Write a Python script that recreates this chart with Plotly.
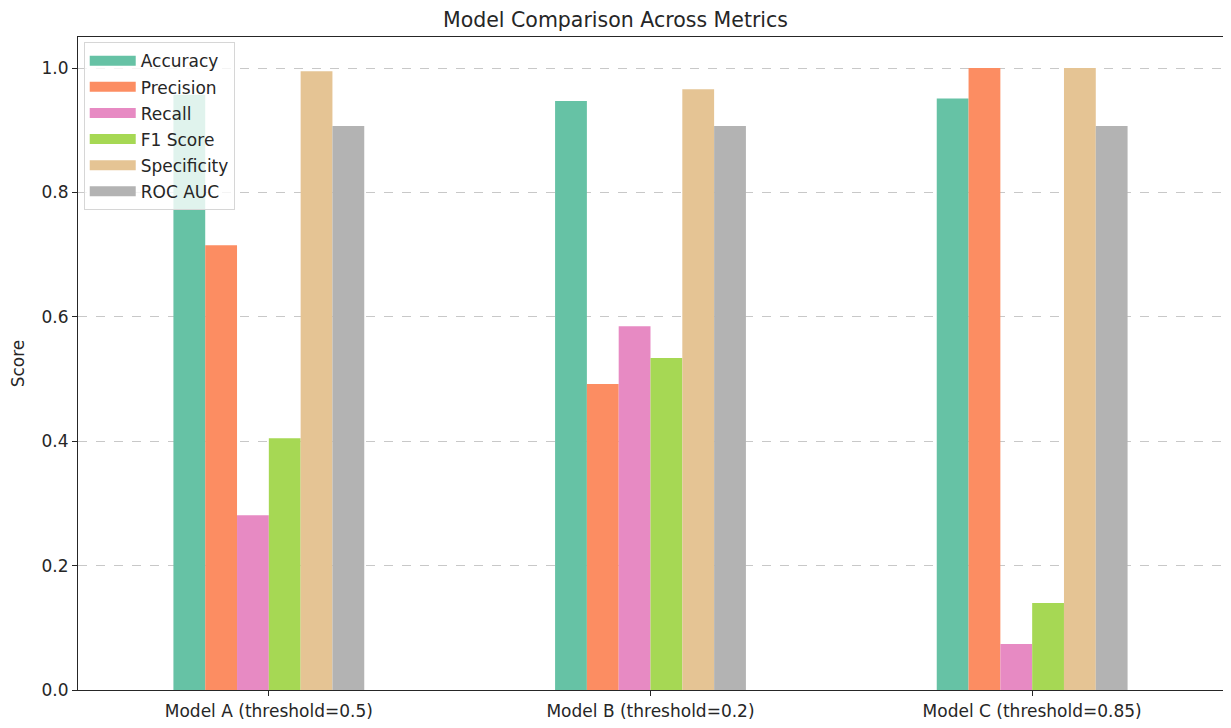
import plotly.graph_objects as go

models = ["Model A (threshold=0.5)", "Model B (threshold=0.2)", "Model C (threshold=0.85)"]
metrics = ["Accuracy", "Precision", "Recall", "F1 Score", "Specificity", "ROC AUC"]
accuracy = [0.957, 0.947, 0.951]
precision = [0.715, 0.492, 1.0]
recall = [0.281, 0.585, 0.074]
f1_score = [0.405, 0.534, 0.140]
specificity = [0.995, 0.966, 1.0]
roc_auc = [0.907, 0.907, 0.907]
colors = ["#66c2a5", "#fc8d62", "#e78ac3", "#a6d854", "#e5c494", "#b3b3b3"]

series = [accuracy, precision, recall, f1_score, specificity, roc_auc]
FONT = "DejaVu Sans"
TXT = "#262626"

W, H = 1215, 712
fig = go.Figure()
for name, vals, col in zip(metrics, series, colors):
    fig.add_trace(go.Bar(x=list(range(len(models))), y=vals, name=name,
                         marker=dict(color=col, line=dict(width=0)),
                         showlegend=False, legendgroup=name))
# legend entries drawn as wide patches
for name, col in zip(metrics, colors):
    fig.add_trace(go.Scatter(x=[None], y=[None], mode="lines", name=name,
                             line=dict(color=col, width=13), legendgroup=name,
                             showlegend=True, hoverinfo="skip"))

fig.update_layout(
    width=W, height=H,
    barmode="group", bargap=0.5, bargroupgap=0,
    paper_bgcolor="white", plot_bgcolor="white",
    margin=dict(l=70, r=0, t=29, b=30),
    font=dict(family=FONT, color=TXT, size=17),
    title=dict(text="Model Comparison Across Metrics", x=0.5, xanchor="center",
               y=1 - 12 / H, yanchor="middle", font=dict(size=20.5, family=FONT, color=TXT)),
    showlegend=True,
    legend=dict(x=0.005, y=0.992, xanchor="left", yanchor="top",
                bgcolor="rgba(255,255,255,0.8)", bordercolor="#d6d6d6", borderwidth=1,
                font=dict(size=17, family=FONT, color=TXT), tracegroupgap=1,
                itemsizing="trace", itemwidth=46),
    xaxis=dict(range=[-0.5, 2.5], tickmode="array", tickvals=list(range(len(models))),
               ticktext=models, showgrid=False, zeroline=False,
               showline=True, linecolor=TXT, linewidth=1.2, mirror=True,
               ticks="outside", ticklen=5, tickcolor=TXT,
               tickfont=dict(size=17, family=FONT, color=TXT)),
    yaxis=dict(range=[0, 1.05], tickmode="array", tickvals=[0, 0.2, 0.4, 0.6, 0.8, 1.0],
               ticktext=["0.0", "0.2", "0.4", "0.6", "0.8", "1.0"],
               showgrid=True, gridcolor="rgba(176,176,176,0.7)", griddash="dash", gridwidth=1,
               zeroline=False, showline=True, linecolor=TXT, linewidth=1.2, mirror=True,
               ticks="outside", ticklen=5, tickcolor=TXT,
               tickfont=dict(size=17, family=FONT, color=TXT),
               title=dict(text="Score", font=dict(size=17, family=FONT, color=TXT), standoff=14)),
)

fig.write_html("out.html")
